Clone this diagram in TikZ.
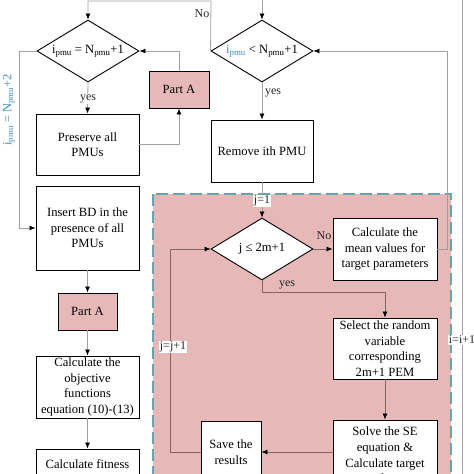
\documentclass[tikz,border=0pt]{standalone}
\usepackage{fontspec}
\setmainfont{Liberation Serif}
\usetikzlibrary{arrows.meta,shapes.geometric}
\definecolor{pinkA}{RGB}{230,184,183}
\definecolor{lgray}{RGB}{160,160,160}
\definecolor{dlink}{RGB}{135,100,100}
\definecolor{tealb}{RGB}{100,165,175}
\definecolor{bluet}{RGB}{60,140,190}
\begin{document}
\begin{tikzpicture}[x=1pt,y=-1pt,
  box/.style={draw=black, line width=0.9pt, fill=white, align=center,
    font=\fontsize{12.6}{15.6}\selectfont, inner sep=1pt},
  pbox/.style={box, fill=pinkA},
  dia/.style={box, diamond, aspect=1.65, inner sep=0pt, minimum width=102pt, minimum height=62pt},
  link/.style={draw=lgray, line width=0.8pt},
  ilink/.style={draw=dlink, line width=0.8pt},
  arr/.style={-{Latex[length=6pt,width=5pt,color=black]}},
  lab/.style={font=\fontsize{12}{13}\selectfont, inner sep=1pt, text=black!85}
]
\useasboundingbox (0,0) rectangle (474,474);
\clip (0,0) rectangle (474,474);

% shaded region
\path[fill=pinkA, draw=tealb, line width=1.3pt, dash pattern=on 12pt off 5pt]
  (153,194) rectangle (451,490);

% nodes
\node[dia] (d1) at (88,51) {i\textsubscript{pmu} = N\textsubscript{pmu}+1};
\node[dia] (d2) at (262,51) {\textcolor{bluet}{i\textsubscript{pmu}} < N\textsubscript{pmu}+1};
\node[pbox, minimum width=60pt, minimum height=37pt] (pa1) at (179,89.5) {Part A};
\node[box, minimum width=103pt, minimum height=61pt] (pres) at (87.5,144.5) {Preserve all\\PMUs};
\node[box, minimum width=103pt, minimum height=84pt] (ins) at (87.5,228) {Insert BD in the\\presence of all\\PMUs};
\node[pbox, minimum width=59pt, minimum height=37pt] (pa2) at (87.5,311.5) {Part A};
\node[box, minimum width=103pt, minimum height=62pt] (obj) at (87.5,387) {Calculate the\\objective\\functions\\equation (10)-(13)};
\node[box, minimum width=103pt, minimum height=30pt] (fit) at (87.5,464) {Calculate fitness};
\node[box, minimum width=102pt, minimum height=62pt] (rem) at (262,151) {Remove ith PMU};
\node[dia] (d3) at (262,249) {j ≤ 2m+1};
\node[box, minimum width=104pt, minimum height=62pt] (mean) at (385,249) {Calculate the\\mean values for\\target parameters};
\node[box, minimum width=104pt, minimum height=61pt] (sel) at (385,348.5) {Select the random\\variable\\corresponding\\2m+1 PEM};
\node[box, minimum width=104pt, minimum height=70pt] (solve) at (385,455) {Solve the SE\\equation \&\\Calculate target\\values};
\node[box, minimum width=60pt, minimum height=62pt] (save) at (231,452) {Save the\\results};

\coordinate (topd2) at (262,-2);
\coordinate (tl) at (211,1);
\coordinate (rt) at (462,-2);
\coordinate (rb) at (462,480);

% connectors
\draw[link, arr] (topd2) -- (d2.north);
\draw[link, arr] (d2.west) -- (tl) -| (d1.north);
\node[lab] (no1) at (202,14) {No};
\draw[link, arr] (d1.west) -- ++(-17,0) |- (ins.west);
\node[lab, text=bluet, rotate=90, font=\fontsize{12.5}{13}\selectfont] (lbl2) at (9,110) {i\textsubscript{pmu} = N\textsubscript{pmu}+2};
\draw[link, arr] (d1.south) -- (pres.north);
\node[lab, fill=white] (yes1) at (88,99) {yes};
\draw[link, arr] (pres.east) -| (pa1.south);
\draw[link, arr] (pa1.north) |- (d1.east);
\draw[link, arr] (ins.south) -- (pa2.north);
\draw[link, arr] (pa2.south) -- (obj.north);
\draw[link, arr] (obj.south) -- (fit.north);
\draw[link, arr] (d2.south) -- (rem.north);
\node[lab] (yes2) at (273,93) {yes};
\draw[link, arr] (rem.south) -- (d3.north);
\node[lab, fill=white] (j1) at (262,201) {j=1};
\draw[ilink, arr] (d3.east) -- (mean.west);
\node[lab] (no2) at (324,236) {No};
\draw[link, arr] (mean.east) -- ++(10,0) |- (d2.east);
\draw[ilink, arr] (d3.south) -- ++(0,12) -| (sel.north);
\node[lab] (yes3) at (287,285) {yes};
\draw[ilink, arr] (sel.south) -- (solve.north);
\draw[ilink, arr] (solve.west |- save.east) -- (save.east);
\draw[ilink, arr] (save.west) -- ++(-30,0) |- (d3.west);
\node[lab, fill=white] (jj) at (173,347) {j=j+1};
\draw[link] (rt) -- (rb);
\node[lab, fill=white] (ii) at (462,340) {i=i+1};
\end{tikzpicture}
\end{document}
